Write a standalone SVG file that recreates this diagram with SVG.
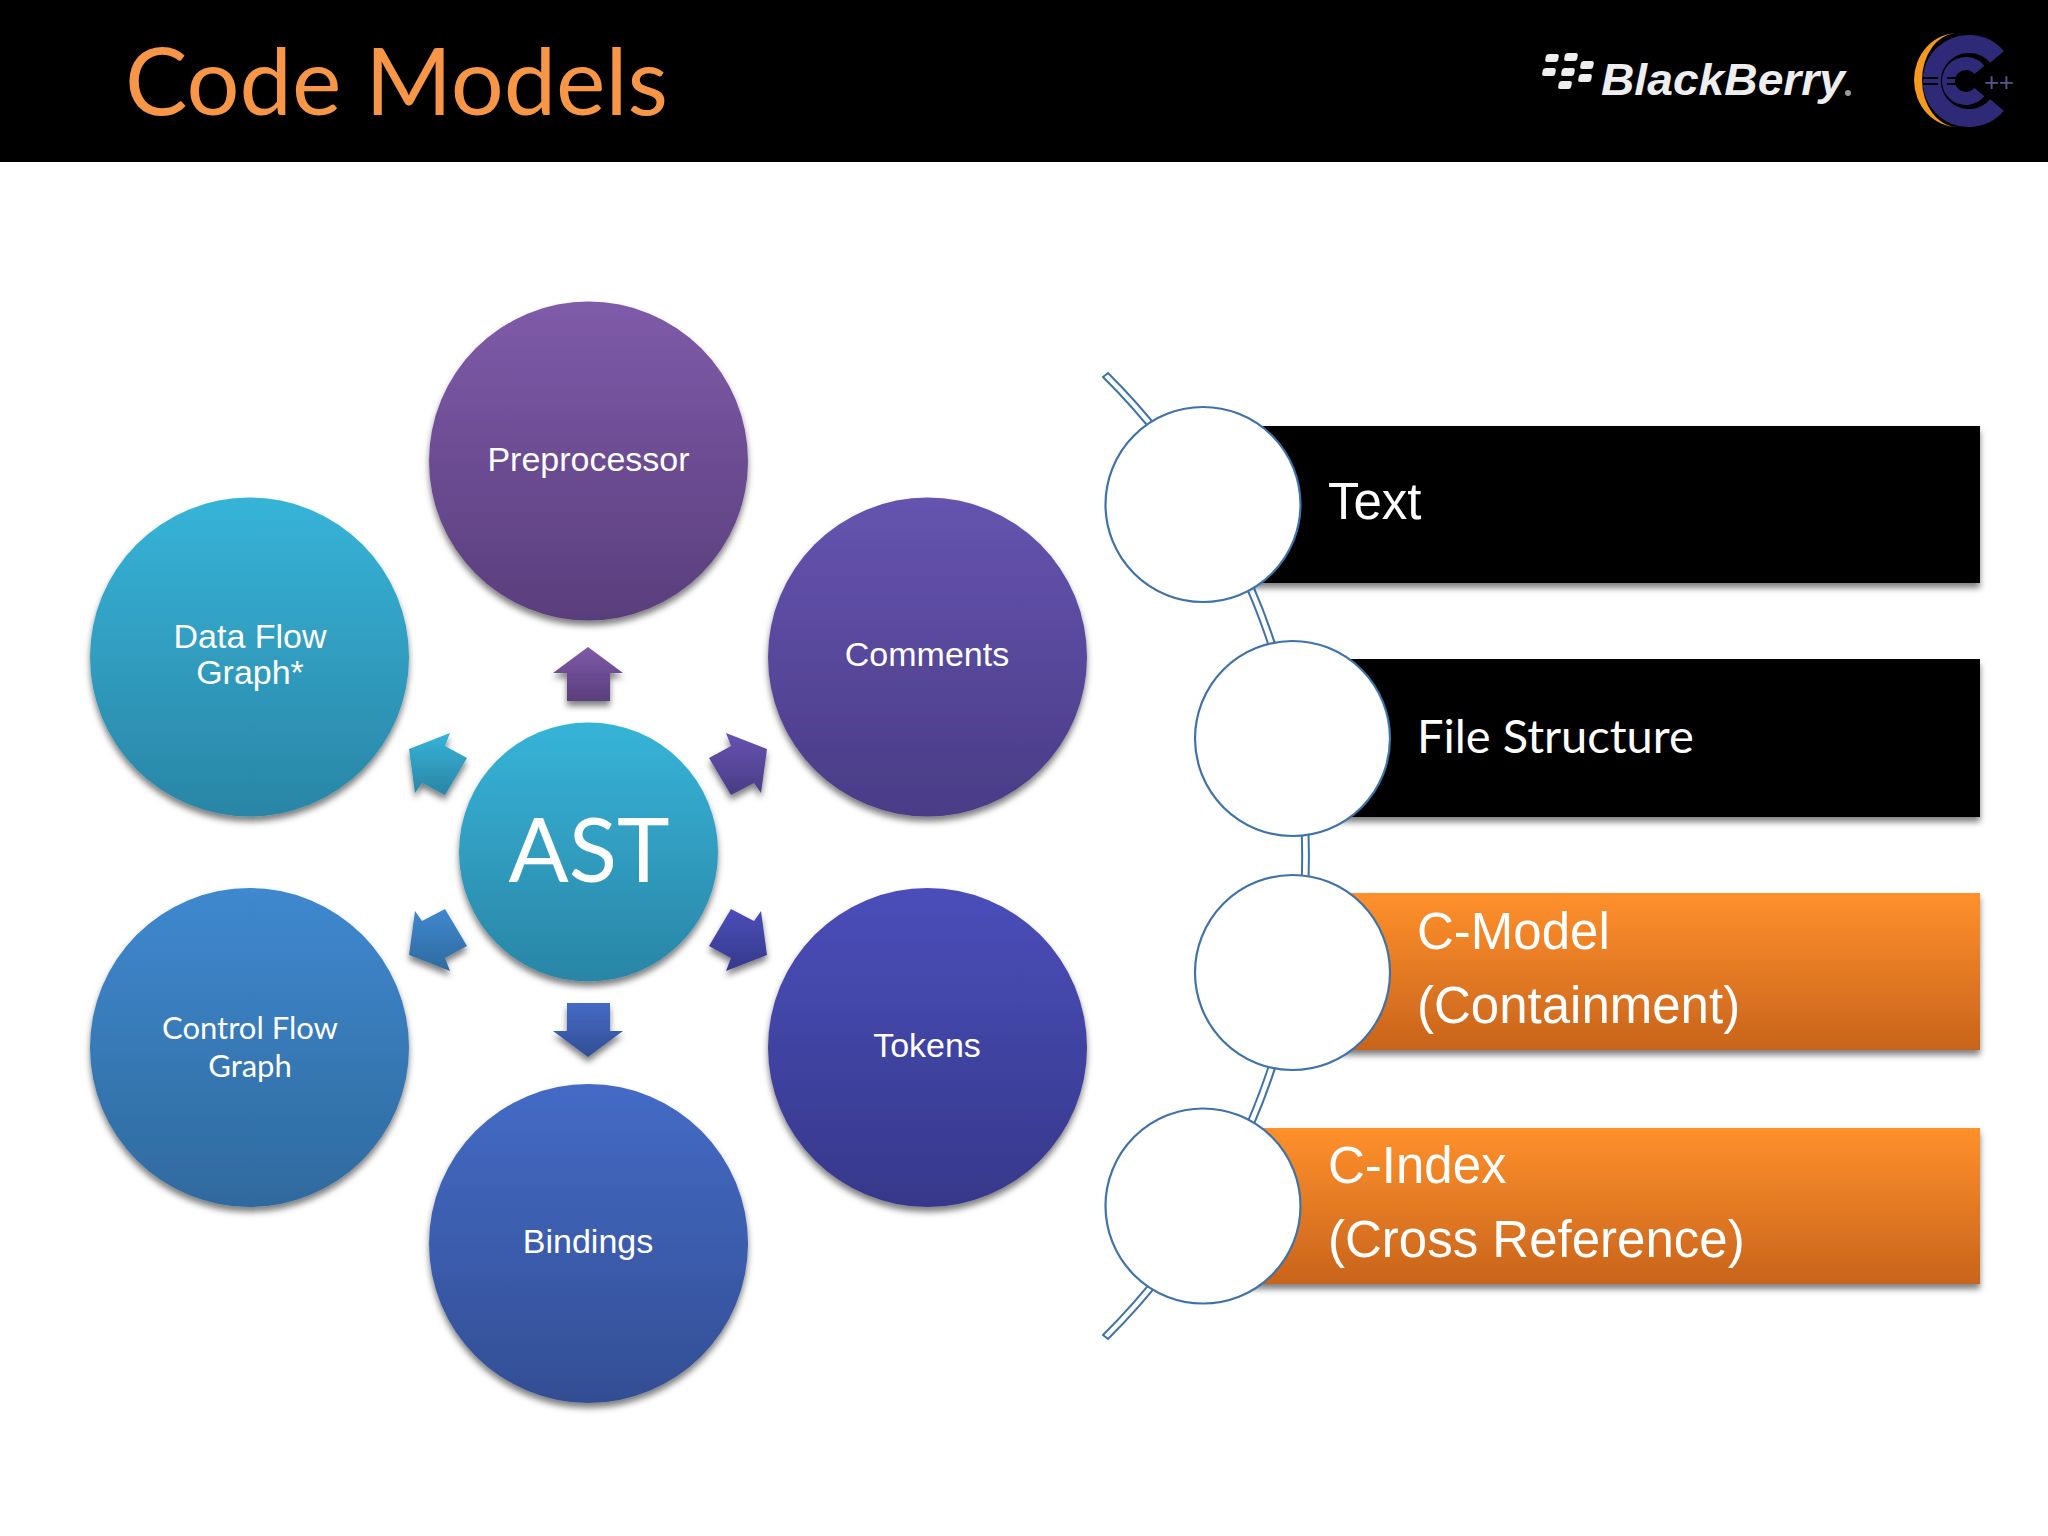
<svg xmlns="http://www.w3.org/2000/svg" width="2048" height="1536" viewBox="0 0 2048 1536">
  <style>
    .arial { font-family: "Liberation Sans", Arial, sans-serif; fill: #fff; }
    .lato { font-family: Lato, "Open Sans", sans-serif; fill: #fff; }
    .c34 { font-size: 34px; text-anchor: middle; }
    .lab { font-size: 51px; }
    .ring { fill: #fff; stroke: #3f72a8; stroke-width: 2.2; }
    .sh { filter: url(#shadow); }
    .teal { fill: url(#gTeal); }
    .blue { fill: url(#gBlue); }
    .bind { fill: url(#gBind); }
    .tok { fill: url(#gTok); }
    .com { fill: url(#gCom); }
    .pre { fill: url(#gPre); }
    .org { fill: url(#gOrg); }
  </style>
  <defs>
    <filter id="shadow" x="-15%" y="-15%" width="130%" height="135%">
      <feDropShadow dx="0" dy="5" stdDeviation="3" flood-color="#000" flood-opacity="0.5"/>
    </filter>
    <linearGradient id="gTeal" x1="0" y1="0" x2="0" y2="1"><stop offset="0" stop-color="#36b4d8"/><stop offset="1" stop-color="#2a85a6"/></linearGradient>
    <linearGradient id="gBlue" x1="0" y1="0" x2="0" y2="1"><stop offset="0" stop-color="#3f88cf"/><stop offset="1" stop-color="#2f6a9e"/></linearGradient>
    <linearGradient id="gBind" x1="0" y1="0" x2="0" y2="1"><stop offset="0" stop-color="#446bc6"/><stop offset="1" stop-color="#334e94"/></linearGradient>
    <linearGradient id="gTok" x1="0" y1="0" x2="0" y2="1"><stop offset="0" stop-color="#4b4eba"/><stop offset="1" stop-color="#36388a"/></linearGradient>
    <linearGradient id="gCom" x1="0" y1="0" x2="0" y2="1"><stop offset="0" stop-color="#6554b0"/><stop offset="1" stop-color="#4a3c86"/></linearGradient>
    <linearGradient id="gPre" x1="0" y1="0" x2="0" y2="1"><stop offset="0" stop-color="#7f5ba9"/><stop offset="1" stop-color="#593e7c"/></linearGradient>
    <linearGradient id="gOrg" x1="0" y1="0" x2="0" y2="1"><stop offset="0" stop-color="#ff902b"/><stop offset="1" stop-color="#c8641c"/></linearGradient>
    <rect id="bbDot" x="-6.5" y="-4" width="13" height="8" rx="2.5" transform="skewX(-10)"/>
  </defs>

  <rect width="2048" height="1536" fill="#fff"/>

  <g id="header">
    <rect width="2048" height="162" fill="#000"/>
    <text x="125" y="115" font-family="Lato, 'Open Sans', sans-serif" font-size="93" fill="#f79646" textLength="543" lengthAdjust="spacingAndGlyphs">Code Models</text>
  </g>

  <g id="logo-blackberry" fill="#eee">
    <use href="#bbDot" x="1552" y="58"/>
    <use href="#bbDot" x="1571" y="57"/>
    <use href="#bbDot" x="1549" y="72"/>
    <use href="#bbDot" x="1568" y="72"/>
    <use href="#bbDot" x="1587" y="65"/>
    <use href="#bbDot" x="1585" y="78"/>
    <use href="#bbDot" x="1565" y="85"/>
    <text x="1601" y="95" font-family="'Liberation Sans', Arial, sans-serif" font-size="44" font-weight="700" font-style="italic" textLength="244" lengthAdjust="spacingAndGlyphs">BlackBerry</text>
    <circle cx="1848" cy="93" r="3" fill="#999"/>
  </g>

  <g id="logo-cpp">
    <path d="M1958 33 A44 47 0 0 0 1958 127 A36 47 0 0 1 1958 33 Z" fill="#f59a1f"/>
    <path d="M1997 57 A37 37 0 1 0 1997 105" fill="none" stroke="#2f2a78" stroke-width="18"/>
    <path d="M1979.4 69.8 A17.5 17.5 0 1 0 1979.4 92.2" fill="none" stroke="#2f2a78" stroke-width="13"/>
    <path d="M1923 78 H1938 M1923 84 H1938 M1947 78 H1957 M1947 84 H1957" stroke="#000" stroke-width="2"/>
    <text x="1984" y="91" font-family="'Liberation Sans', Arial, sans-serif" font-size="26" fill="#55558a" textLength="30">++</text>
  </g>

  <g id="connectors">
    <path id="spine" d="M1108 373 A681 681 0 0 1 1108 1339 L1103 1335 A675.5 675.5 0 0 0 1103 377 Z" fill="#fff" stroke="#3f72a8" stroke-width="2"/>
    <polygon class="pre sh" points="588,647 623,673 610,673 610,701 567,701 567,673 553,673"/>
    <polygon class="com sh" points="767,749 726,733 731,746 709,758 731,795 754,783 761,793"/>
    <polygon class="tok sh" points="767,955 726,971 731,958 709,946 731,909 754,921 761,911"/>
    <polygon class="bind sh" points="588,1057 623,1031 610,1031 610,1003 567,1003 567,1031 553,1031"/>
    <polygon class="blue sh" points="409,955 450,971 445,958 467,946 445,909 422,921 415,911"/>
    <polygon class="teal sh" points="409,749 450,733 445,746 467,758 445,795 422,783 415,793"/>
  </g>

  <g id="node-preprocessor">
    <circle class="pre sh" cx="588.5" cy="461" r="159.5"/>
    <text class="arial c34" x="588.5" y="471">Preprocessor</text>
  </g>
  <g id="node-comments">
    <circle class="com sh" cx="927.5" cy="657" r="159.5"/>
    <text class="arial c34" x="927" y="666">Comments</text>
  </g>
  <g id="node-tokens">
    <circle class="tok sh" cx="927.5" cy="1047.5" r="159.5"/>
    <text class="arial c34" x="927" y="1057">Tokens</text>
  </g>
  <g id="node-bindings">
    <circle class="bind sh" cx="588.5" cy="1243.5" r="159.5"/>
    <text class="arial c34" x="588" y="1253">Bindings</text>
  </g>
  <g id="node-control-flow">
    <circle class="blue sh" cx="249.5" cy="1047.5" r="159.5"/>
    <text class="lato c34" style="font-size:31px"><tspan x="250" y="1039">Control Flow</tspan><tspan x="250" y="1077">Graph</tspan></text>
  </g>
  <g id="node-data-flow">
    <circle class="teal sh" cx="249.5" cy="657" r="159.5"/>
    <text class="arial c34"><tspan x="250" y="648">Data Flow</tspan><tspan x="250" y="684">Graph*</tspan></text>
  </g>
  <g id="node-ast">
    <circle class="teal sh" cx="588.5" cy="852" r="129.5"/>
    <text class="lato" x="589" y="882" font-size="89" text-anchor="middle">AST</text>
  </g>

  <g id="node-text">
    <rect class="sh" x="1203" y="426" width="777" height="157" fill="#000"/>
    <circle class="ring" cx="1203" cy="504.5" r="97.5"/>
    <text class="arial lab" x="1328" y="519">Text</text>
  </g>
  <g id="node-file-structure">
    <rect class="sh" x="1292" y="659" width="688" height="158" fill="#000"/>
    <circle class="ring" cx="1292.5" cy="738.5" r="97.5"/>
    <text class="lato" x="1417" y="753" font-size="47">File Structure</text>
  </g>
  <g id="node-c-model">
    <rect class="org sh" x="1292" y="893" width="688" height="157"/>
    <circle class="ring" cx="1292.5" cy="972.5" r="97.5"/>
    <text class="arial lab" x="1417" y="949">C-Model</text>
    <text class="arial lab" x="1417" y="1023">(Containment)</text>
  </g>
  <g id="node-c-index">
    <rect class="org sh" x="1203" y="1128" width="777" height="156"/>
    <circle class="ring" cx="1203" cy="1206" r="97.5"/>
    <text class="arial lab" x="1328" y="1183">C-Index</text>
    <text class="arial lab" x="1328" y="1257">(Cross Reference)</text>
  </g>
</svg>
